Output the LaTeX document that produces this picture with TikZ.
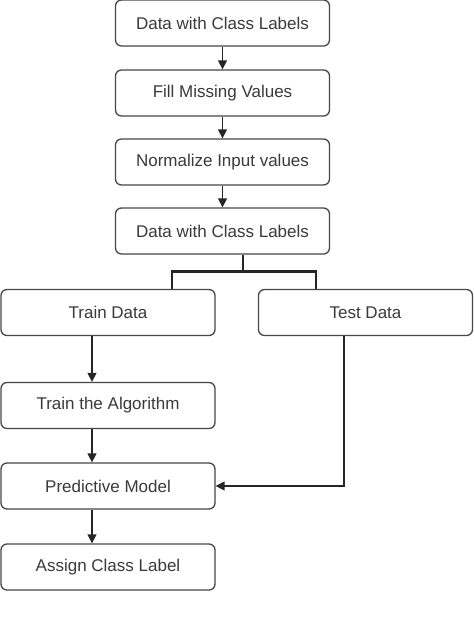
\documentclass[tikz,border=0pt]{standalone}
\usepackage{fontspec}
\setmainfont{Liberation Sans}
\usetikzlibrary{arrows.meta}
\definecolor{boxline}{HTML}{474747}
\definecolor{txt}{HTML}{3A3A3A}
\definecolor{conn}{HTML}{262626}
\tikzset{
  stepbox/.style={draw=boxline, line width=1.3pt, rounded corners=6pt, fill=white,
    minimum width=214pt, minimum height=46pt, inner sep=0pt,
    font=\fontsize{17}{20}\selectfont, text=txt},
  arr/.style={draw=conn, line width=1.4pt, -{Triangle[length=9pt,width=9pt]}},
  branch/.style={draw=conn, line width=2.8pt}
}
\begin{document}
\begin{tikzpicture}[x=1pt,y=1pt]
\useasboundingbox (0,0) rectangle (474,619);
\node[stepbox] (b1) at (222.5,596) {Data with Class Labels};
\node[stepbox] (b2) at (222.5,526) {Fill Missing Values};
\node[stepbox] (b3) at (222.5,457) {Normalize Input values};
\node[stepbox] (b4) at (222.5,388) {Data with Class Labels};
\node[stepbox] (train) at (108,306.5) {Train Data};
\node[stepbox] (test) at (365.5,306.5) {Test Data};
\node[stepbox] (algo) at (108,213.5) {Train the Algorithm};
\node[stepbox] (pred) at (108,133) {Predictive Model};
\node[stepbox] (assign) at (108,52) {Assign Class Label};
\draw[arr] (b1) -- (b2);
\draw[arr] (b2) -- (b3);
\draw[arr] (b3) -- (b4);
\coordinate (junc) at ([xshift=20.5pt,yshift=-17pt]b4.south);
\draw[branch] ([xshift=20.5pt]b4.south) -- (junc);
\draw[branch] ([xshift=64pt]train.north) |- (junc) -| ([xshift=-49.5pt]test.north);
\draw[arr] ([xshift=-16pt]train.south) -- ([xshift=-16pt]algo.north);
\draw[arr] ([xshift=-16pt]algo.south) -- ([xshift=-16pt]pred.north);
\draw[arr] ([xshift=-16pt]pred.south) -- ([xshift=-16pt]assign.north);
\draw[arr] ([xshift=-21.5pt]test.south) |- (pred.east);
\end{tikzpicture}
\end{document}
